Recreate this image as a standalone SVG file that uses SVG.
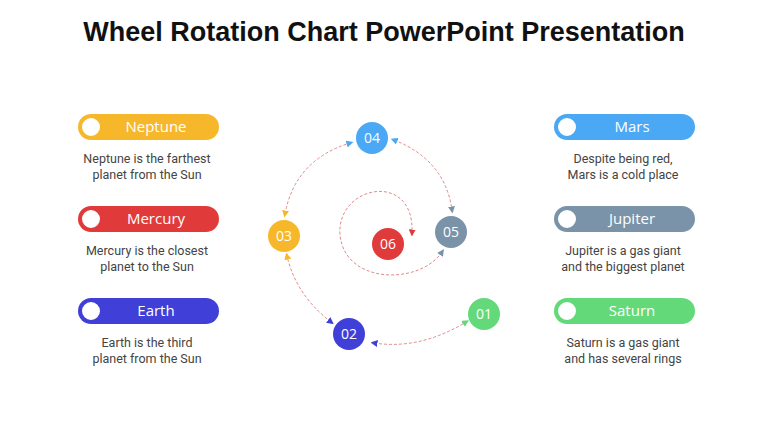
<svg xmlns="http://www.w3.org/2000/svg" width="768" height="432" viewBox="0 0 768 432">
<style>
.t{font-family:"Liberation Sans",Arial,sans-serif}
.title{font-size:27px;font-weight:bold;fill:#111}
.pl{font-family:"Open Sans","Liberation Sans",sans-serif;font-size:15px;fill:#fff;text-anchor:middle}
.d{font-family:Roboto,"Liberation Sans",sans-serif;font-size:12.5px;fill:#444;text-anchor:middle}
.n{font-family:"Open Sans","Liberation Sans",sans-serif;font-size:14px;fill:#fff;text-anchor:middle}
.c{fill:none;stroke:#e08a8a;stroke-width:1;stroke-dasharray:3 2}
</style>
<defs>
<marker id="mg" viewBox="0 0 10 10" refX="5" refY="5" markerWidth="7" markerHeight="7" orient="auto-start-reverse"><path d="M0,0L10,5L0,10z" fill="#63d97a"/></marker>
<marker id="mp" viewBox="0 0 10 10" refX="5" refY="5" markerWidth="7" markerHeight="7" orient="auto-start-reverse"><path d="M0,0L10,5L0,10z" fill="#4040d8"/></marker>
<marker id="my" viewBox="0 0 10 10" refX="5" refY="5" markerWidth="7" markerHeight="7" orient="auto-start-reverse"><path d="M0,0L10,5L0,10z" fill="#f6b82a"/></marker>
<marker id="mb" viewBox="0 0 10 10" refX="5" refY="5" markerWidth="7" markerHeight="7" orient="auto-start-reverse"><path d="M0,0L10,5L0,10z" fill="#4aa8f4"/></marker>
<marker id="ms" viewBox="0 0 10 10" refX="5" refY="5" markerWidth="7" markerHeight="7" orient="auto-start-reverse"><path d="M0,0L10,5L0,10z" fill="#7b93a8"/></marker>
<marker id="mr" viewBox="0 0 10 10" refX="5" refY="5" markerWidth="7" markerHeight="7" orient="auto-start-reverse"><path d="M0,0L10,5L0,10z" fill="#e03a3a"/></marker>
</defs>
<rect width="768" height="432" fill="#fff"/>
<text class="t title" x="384" y="41" text-anchor="middle">Wheel Rotation Chart PowerPoint Presentation</text>
<g id="connectors">
<path class="c" d="M374,343 Q420,350 466,322" marker-start="url(#mp)" marker-end="url(#mg)"/>
<path class="c" d="M331,322 Q296,295 287,256" marker-start="url(#mp)" marker-end="url(#my)"/>
<path class="c" d="M285,214 Q295,160 350,143" marker-start="url(#my)" marker-end="url(#mb)"/>
<path class="c" d="M394,140 Q445,160 452,210" marker-start="url(#mb)" marker-end="url(#ms)"/>
<path class="c" d="M442,252 C420,285 345,285 340,235 C336,185 415,170 412,233" marker-start="url(#ms)" marker-end="url(#mr)"/>
</g>
<g id="node01"><circle cx="484" cy="314" r="16" fill="#63d97a"/><text class="n" x="484" y="319">01</text></g>
<g id="node02"><circle cx="349" cy="334" r="16" fill="#4040d8"/><text class="n" x="349" y="339">02</text></g>
<g id="node03"><circle cx="284" cy="236" r="16" fill="#f6b82a"/><text class="n" x="284" y="241">03</text></g>
<g id="node04"><circle cx="372" cy="138" r="16" fill="#4aa8f4"/><text class="n" x="372" y="143">04</text></g>
<g id="node05"><circle cx="451" cy="232" r="16" fill="#7b93a8"/><text class="n" x="451" y="237">05</text></g>
<g id="node06"><circle cx="388" cy="244" r="16" fill="#e03a3a"/><text class="n" x="388" y="249">06</text></g>
<g id="neptune"><rect x="78" y="114" width="141" height="26" rx="13" fill="#f6b82a"/><circle cx="91" cy="127" r="10" fill="#fff" stroke="#f6b82a" stroke-width="2"/><text class="pl" x="156" y="132">Neptune</text><text class="d" x="147" y="163">Neptune is the farthest</text><text class="d" x="147" y="179">planet from the Sun</text></g>
<g id="mercury"><rect x="78" y="206" width="141" height="26" rx="13" fill="#e03a3a"/><circle cx="91" cy="219" r="10" fill="#fff" stroke="#e03a3a" stroke-width="2"/><text class="pl" x="156" y="224">Mercury</text><text class="d" x="147" y="255">Mercury is the closest</text><text class="d" x="147" y="271">planet to the Sun</text></g>
<g id="earth"><rect x="78" y="298" width="141" height="26" rx="13" fill="#4040d8"/><circle cx="91" cy="311" r="10" fill="#fff" stroke="#4040d8" stroke-width="2"/><text class="pl" x="156" y="316">Earth</text><text class="d" x="147" y="347">Earth is the third</text><text class="d" x="147" y="363">planet from the Sun</text></g>
<g id="mars"><rect x="554" y="114" width="141" height="26" rx="13" fill="#4aa8f4"/><circle cx="567" cy="127" r="10" fill="#fff" stroke="#4aa8f4" stroke-width="2"/><text class="pl" x="632" y="132">Mars</text><text class="d" x="623" y="163">Despite being red,</text><text class="d" x="623" y="179">Mars is a cold place</text></g>
<g id="jupiter"><rect x="554" y="206" width="141" height="26" rx="13" fill="#7b93a8"/><circle cx="567" cy="219" r="10" fill="#fff" stroke="#7b93a8" stroke-width="2"/><text class="pl" x="632" y="224">Jupiter</text><text class="d" x="623" y="255">Jupiter is a gas giant</text><text class="d" x="623" y="271">and the biggest planet</text></g>
<g id="saturn"><rect x="554" y="298" width="141" height="26" rx="13" fill="#63d97a"/><circle cx="567" cy="311" r="10" fill="#fff" stroke="#63d97a" stroke-width="2"/><text class="pl" x="632" y="316">Saturn</text><text class="d" x="623" y="347">Saturn is a gas giant</text><text class="d" x="623" y="363">and has several rings</text></g>
</svg>
